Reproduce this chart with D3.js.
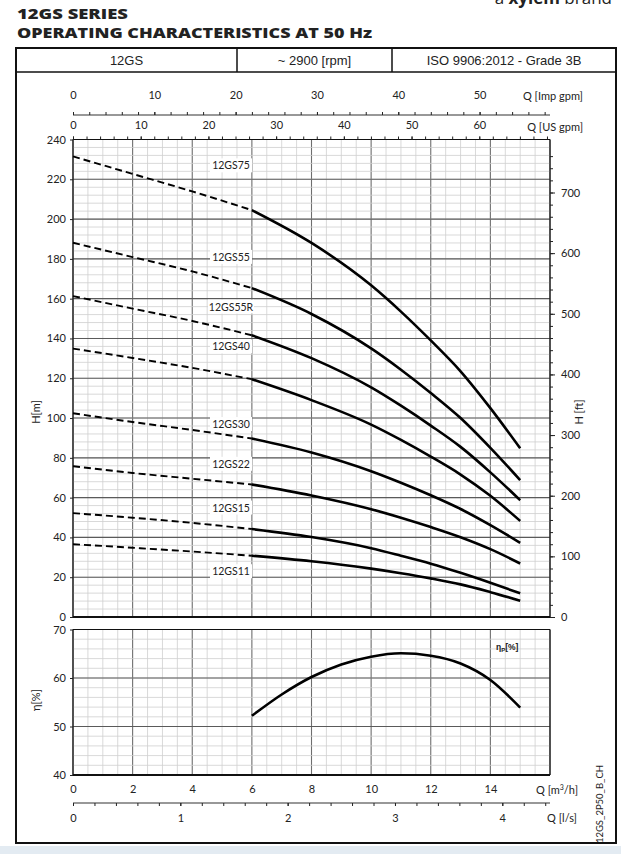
<!DOCTYPE html>
<html><head><meta charset="utf-8">
<script src="https://cdn.jsdelivr.net/npm/d3@7"></script>
<style>
body{margin:0;background:#fff;}
svg{display:block;}
text{font-family:Lato,"Open Sans",sans-serif;fill:#222;}
</style></head>
<body><svg id="c" width="621" height="854"></svg>
<script>
// ---- data ----
const flowQ = [0, 2, 4, 6, 8, 10, 11, 12, 13, 14, 15];          // m3/h
const dashEndQ = 6;
const models = ["12GS75","12GS55","12GS55R","12GS40","12GS30","12GS22","12GS15","12GS11"];
const head75  = [231.5, 222.7, 213.9, 204.5, 188.0, 166.7, 153.5, 139.0, 123.5, 105.0, 84.8];
const head55  = [188.1, 180.9, 173.7, 165.3, 152.3, 135.0, 124.3, 112.6, 100.0, 85.0, 68.8];
const head55R = [161.3, 155.0, 148.8, 141.6, 130.1, 115.4, 106.2, 96.2, 85.5, 72.7, 58.7];
const head40  = [134.9, 130.2, 125.2, 119.5, 109.0, 96.7, 89.0, 80.6, 71.6, 60.9, 48.3];
const head30  = [102.4, 98.0, 94.0, 89.7, 82.7, 73.3, 67.5, 61.2, 54.3, 46.2, 37.3];
const head22  = [75.8, 72.4, 69.5, 66.6, 61.1, 54.2, 49.9, 45.2, 40.1, 34.1, 26.9];
const head15  = [52.2, 49.9, 47.3, 44.2, 40.2, 34.6, 30.8, 26.8, 22.2, 17.2, 11.9];
const head11  = [36.6, 34.8, 32.9, 30.8, 28.0, 24.3, 22.0, 19.4, 16.4, 12.5, 8.2];
const labelH  = [227, 181, 156, 136, 97, 77, 55, 23];   // label positions (m)
const effQ    = [6, 7, 8, 9, 10, 11, 12, 13, 14, 15];
const effVal  = [52.2, 56.6, 60.2, 62.8, 64.4, 65.1, 64.6, 63.0, 59.6, 53.9];
const hTicks  = [0,20,40,60,80,100,120,140,160,180,200,220,240];
const ftTicks = [0,100,200,300,400,500,600,700];
const etaTicks = [40,50,60,70];
const qTicks  = [0,2,4,6,8,10,12,14];
const impTicks = [0,10,20,30,40,50];
const usTicks = [0,10,20,30,40,50,60];
const lsTicks = [0,1,2,3,4];
const headerCells = ["12GS","~ 2900 [rpm]","ISO 9906:2012 - Grade 3B"];
const heads = [head75, head55, head55R, head40, head30, head22, head15, head11];

const svg = d3.select("#c");
const L = 73, R = 550, T1 = 139.5, B1 = 617, T2 = 629.5, B2 = 775;
const x = d3.scaleLinear().domain([0,16]).range([L,R]);
const yH = d3.scaleLinear().domain([0,240]).range([B1,T1]);
const yFt = d3.scaleLinear().domain([0,240/0.3048]).range([B1,T1]);
const yE = d3.scaleLinear().domain([40,70]).range([B2,T2]);
const xImp = d3.scaleLinear().domain([0,16*219.969/60]).range([L,R]);
const xUS = d3.scaleLinear().domain([0,16*264.172/60]).range([L,R]);
const xLs = d3.scaleLinear().domain([0,16/3.6]).range([L,R]);

// light band at bottom
svg.append("rect").attr("x",0).attr("y",846).attr("width",621).attr("height",8).attr("fill","#e3ebf2");

// brand (cut off at top, as in the original)
svg.append("text").attr("x",612).attr("y",4).attr("text-anchor","end")
  .style("font-family","'Open Sans',sans-serif").style("font-size","17px").attr("fill","#333")
  .html('a <tspan font-weight="700">xylem</tspan> brand');

// titles
svg.append("text").attr("x",17).attr("y",19).text("12GS SERIES")
  .style("font-family","'Open Sans',sans-serif").style("font-weight","800").style("font-size","14px")
  .attr("textLength",111).attr("lengthAdjust","spacingAndGlyphs").attr("fill","#111");
svg.append("text").attr("x",17).attr("y",38).text("OPERATING CHARACTERISTICS AT 50 Hz")
  .style("font-family","'Open Sans',sans-serif").style("font-weight","800").style("font-size","14px")
  .attr("textLength",355).attr("lengthAdjust","spacingAndGlyphs").attr("fill","#111");

// outer frame + header
const FX0 = 16, FX1 = 616, FY0 = 48, FY1 = 843, HY = 72;
svg.append("rect").attr("x",FX0).attr("y",FY0).attr("width",FX1-FX0).attr("height",FY1-FY0)
  .attr("fill","none").attr("stroke","#111").attr("stroke-width",2);
svg.append("line").attr("x1",FX0).attr("x2",FX1).attr("y1",HY).attr("y2",HY).attr("stroke","#111").attr("stroke-width",1.5);
const divs = [FX0, 237, 392, FX1];
[237,392].forEach(d=>svg.append("line").attr("x1",d).attr("x2",d).attr("y1",FY0).attr("y2",HY).attr("stroke","#111").attr("stroke-width",1.5));
headerCells.forEach((t,i)=>{
  svg.append("text").attr("x",(divs[i]+divs[i+1])/2).attr("y",65).attr("text-anchor","middle")
    .style("font-family","'Liberation Sans',Arial,sans-serif").style("font-size","13px").attr("fill","#111").text(t);
});

// ---- grids ----
function grid(g, y0, y1, yMinor, yMajor, yScale){
  d3.range(0,16.01,0.5).forEach(q=>{
    const major = Math.abs(q/2-Math.round(q/2))<1e-6;
    g.append("line").attr("x1",x(q)).attr("x2",x(q)).attr("y1",y0).attr("y2",y1)
      .attr("stroke", major? "#6e6e6e":"#cfcfcf").attr("stroke-width", major?1.1:0.8);
  });
  yMinor.forEach(v=>{
    g.append("line").attr("x1",L).attr("x2",R).attr("y1",yScale(v)).attr("y2",yScale(v))
      .attr("stroke","#cfcfcf").attr("stroke-width",0.8);
  });
  yMajor.forEach(v=>{
    g.append("line").attr("x1",L).attr("x2",R).attr("y1",yScale(v)).attr("y2",yScale(v))
      .attr("stroke","#5a5a5a").attr("stroke-width",1.1);
  });
}
const g1 = svg.append("g");
grid(g1, T1, B1, d3.range(0,240.1,4), hTicks, yH);
const g2 = svg.append("g");
grid(g2, T2, B2, d3.range(40,70.1,2), etaTicks, yE);

// frames of plots
[[T1,B1],[T2,B2]].forEach(([t,b])=>{
  svg.append("line").attr("x1",L).attr("x2",R).attr("y1",t).attr("y2",t).attr("stroke","#111").attr("stroke-width",1.2);
  svg.append("line").attr("x1",L).attr("x2",R).attr("y1",b).attr("y2",b).attr("stroke","#111").attr("stroke-width",1.8);
  svg.append("line").attr("x1",L).attr("x2",L).attr("y1",t).attr("y2",b).attr("stroke","#111").attr("stroke-width",1.2);
  svg.append("line").attr("x1",R).attr("x2",R).attr("y1",t).attr("y2",b).attr("stroke","#111").attr("stroke-width",1.2);
});

// ---- axes ----
function styleAxis(sel, fs){
  sel.select(".domain").remove();
  sel.selectAll("line").attr("stroke","#222");
  sel.selectAll("text").style("font-family","Lato,sans-serif").style("font-size",(fs||11)+"px").attr("fill","#222");
}
svg.append("g").attr("transform",`translate(${L},0)`)
  .call(d3.axisLeft(yH).tickValues(hTicks).tickSize(3).tickPadding(4)).call(styleAxis);
svg.append("g").attr("transform",`translate(${L},0)`)
  .call(d3.axisLeft(yE).tickValues(etaTicks).tickSize(3).tickPadding(4)).call(styleAxis);
svg.append("g").attr("transform",`translate(${R},0)`)
  .call(d3.axisRight(yFt).tickValues(d3.range(0,780,20)).tickSize(3).tickFormat("")).call(styleAxis);
svg.append("g").attr("transform",`translate(${R},0)`)
  .call(d3.axisRight(yFt).tickValues(ftTicks).tickSize(5).tickPadding(6)).call(styleAxis);
svg.append("g").attr("transform",`translate(0,${T1})`)
  .call(d3.axisTop(xUS).tickValues(d3.range(0,70.5,2)).tickSize(3).tickFormat("")).call(styleAxis);
svg.append("g").attr("transform",`translate(0,${T1})`)
  .call(d3.axisTop(xUS).tickValues(usTicks).tickSize(3).tickPadding(8)).call(styleAxis);
const impY = 115;
svg.append("line").attr("x1",L).attr("x2",R).attr("y1",impY).attr("y2",impY).attr("stroke","#333").attr("stroke-width",1.2);
svg.append("g").attr("transform",`translate(0,${impY})`)
  .call(d3.axisTop(xImp).tickValues(d3.range(0,58.7,2)).tickSize(3).tickFormat("")).call(styleAxis);
svg.append("g").attr("transform",`translate(0,${impY})`)
  .call(d3.axisTop(xImp).tickValues(impTicks).tickSize(3).tickPadding(13)).call(styleAxis);
svg.append("g").attr("transform",`translate(0,${B2})`)
  .call(d3.axisBottom(x).tickValues(qTicks).tickSize(0).tickPadding(10)).call(styleAxis);
const lsY = 803;
svg.append("line").attr("x1",L).attr("x2",R).attr("y1",lsY).attr("y2",lsY).attr("stroke","#333").attr("stroke-width",1.2);
svg.append("g").attr("transform",`translate(0,${lsY})`)
  .call(d3.axisBottom(xLs).tickValues(d3.range(0,4.41,0.2)).tickSize(3).tickFormat("")).call(styleAxis);
svg.append("g").attr("transform",`translate(0,${lsY})`)
  .call(d3.axisBottom(xLs).tickValues(lsTicks).tickFormat(d3.format("d")).tickSize(3).tickPadding(8)).call(styleAxis);

// axis titles
function t(xp, yp, s, opt={}){
  const e = svg.append("text").attr("x",xp).attr("y",yp).text(s)
    .style("font-family","Lato,sans-serif").style("font-size",(opt.fs||11)+"px").attr("fill","#222");
  if(opt.anchor) e.attr("text-anchor",opt.anchor);
  if(opt.rot) e.attr("transform",`rotate(${opt.rot},${xp},${yp})`);
  return e;
}
t(583, 100, "Q [Imp gpm]", {anchor:"end"});
t(583, 131, "Q [US gpm]", {anchor:"end"});
svg.append("text").attr("x",578).attr("y",794).attr("text-anchor","end")
  .style("font-family","Lato,sans-serif").style("font-size","11px").attr("fill","#222")
  .html('Q [m<tspan dy="-4" font-size="7">3</tspan><tspan dy="4">/h]</tspan>');
t(577, 822, "Q [l/s]", {anchor:"end"});
t(40, 412, "H[m]", {anchor:"middle", rot:-90});
t(40, 700, "η[%]", {anchor:"middle", rot:-90});
t(583, 412, "H [ft]", {anchor:"middle", rot:-90});
t(603, 804, "12GS_2P50_B_CH", {anchor:"middle", rot:-90, fs:9.5});
svg.append("text").attr("x",496).attr("y",650)
  .style("font-family","'Liberation Sans',sans-serif").style("font-size","8.5px").style("font-weight","700").attr("fill","#222")
  .html('η<tspan dy="2" font-size="6">P</tspan><tspan dy="-2">[%]</tspan>');

// ---- curves ----
const line = d3.line().x(d=>x(d[0])).y(d=>yH(d[1])).curve(d3.curveMonotoneX);
heads.forEach((h)=>{
  const pts = flowQ.map((q,i)=>[q,h[i]]);
  const dashed = pts.filter(p=>p[0]<=dashEndQ);
  const solid = pts.filter(p=>p[0]>=dashEndQ);
  svg.append("path").attr("d",line(dashed)).attr("fill","none").attr("stroke","#000")
    .attr("stroke-width",1.9).attr("stroke-dasharray","7,4");
  svg.append("path").attr("d",line(solid)).attr("fill","none").attr("stroke","#000")
    .attr("stroke-width",2.6);
});
models.forEach((m,i)=>{
  const cx = 231, cy = yH(labelH[i]);
  const w = m.length>6? 46:42;
  svg.append("rect").attr("x",cx-w/2).attr("y",cy-7).attr("width",w).attr("height",14).attr("fill","#fff");
  svg.append("text").attr("x",cx).attr("y",cy+4).attr("text-anchor","middle")
    .style("font-family","Lato,sans-serif").style("font-size","10.5px").attr("fill","#222").text(m);
});
const eline = d3.line().x(d=>x(d[0])).y(d=>yE(d[1])).curve(d3.curveMonotoneX);
svg.append("path").attr("d",eline(effQ.map((q,i)=>[q,effVal[i]]))).attr("fill","none")
  .attr("stroke","#000").attr("stroke-width",2.6);
</script></body></html>
